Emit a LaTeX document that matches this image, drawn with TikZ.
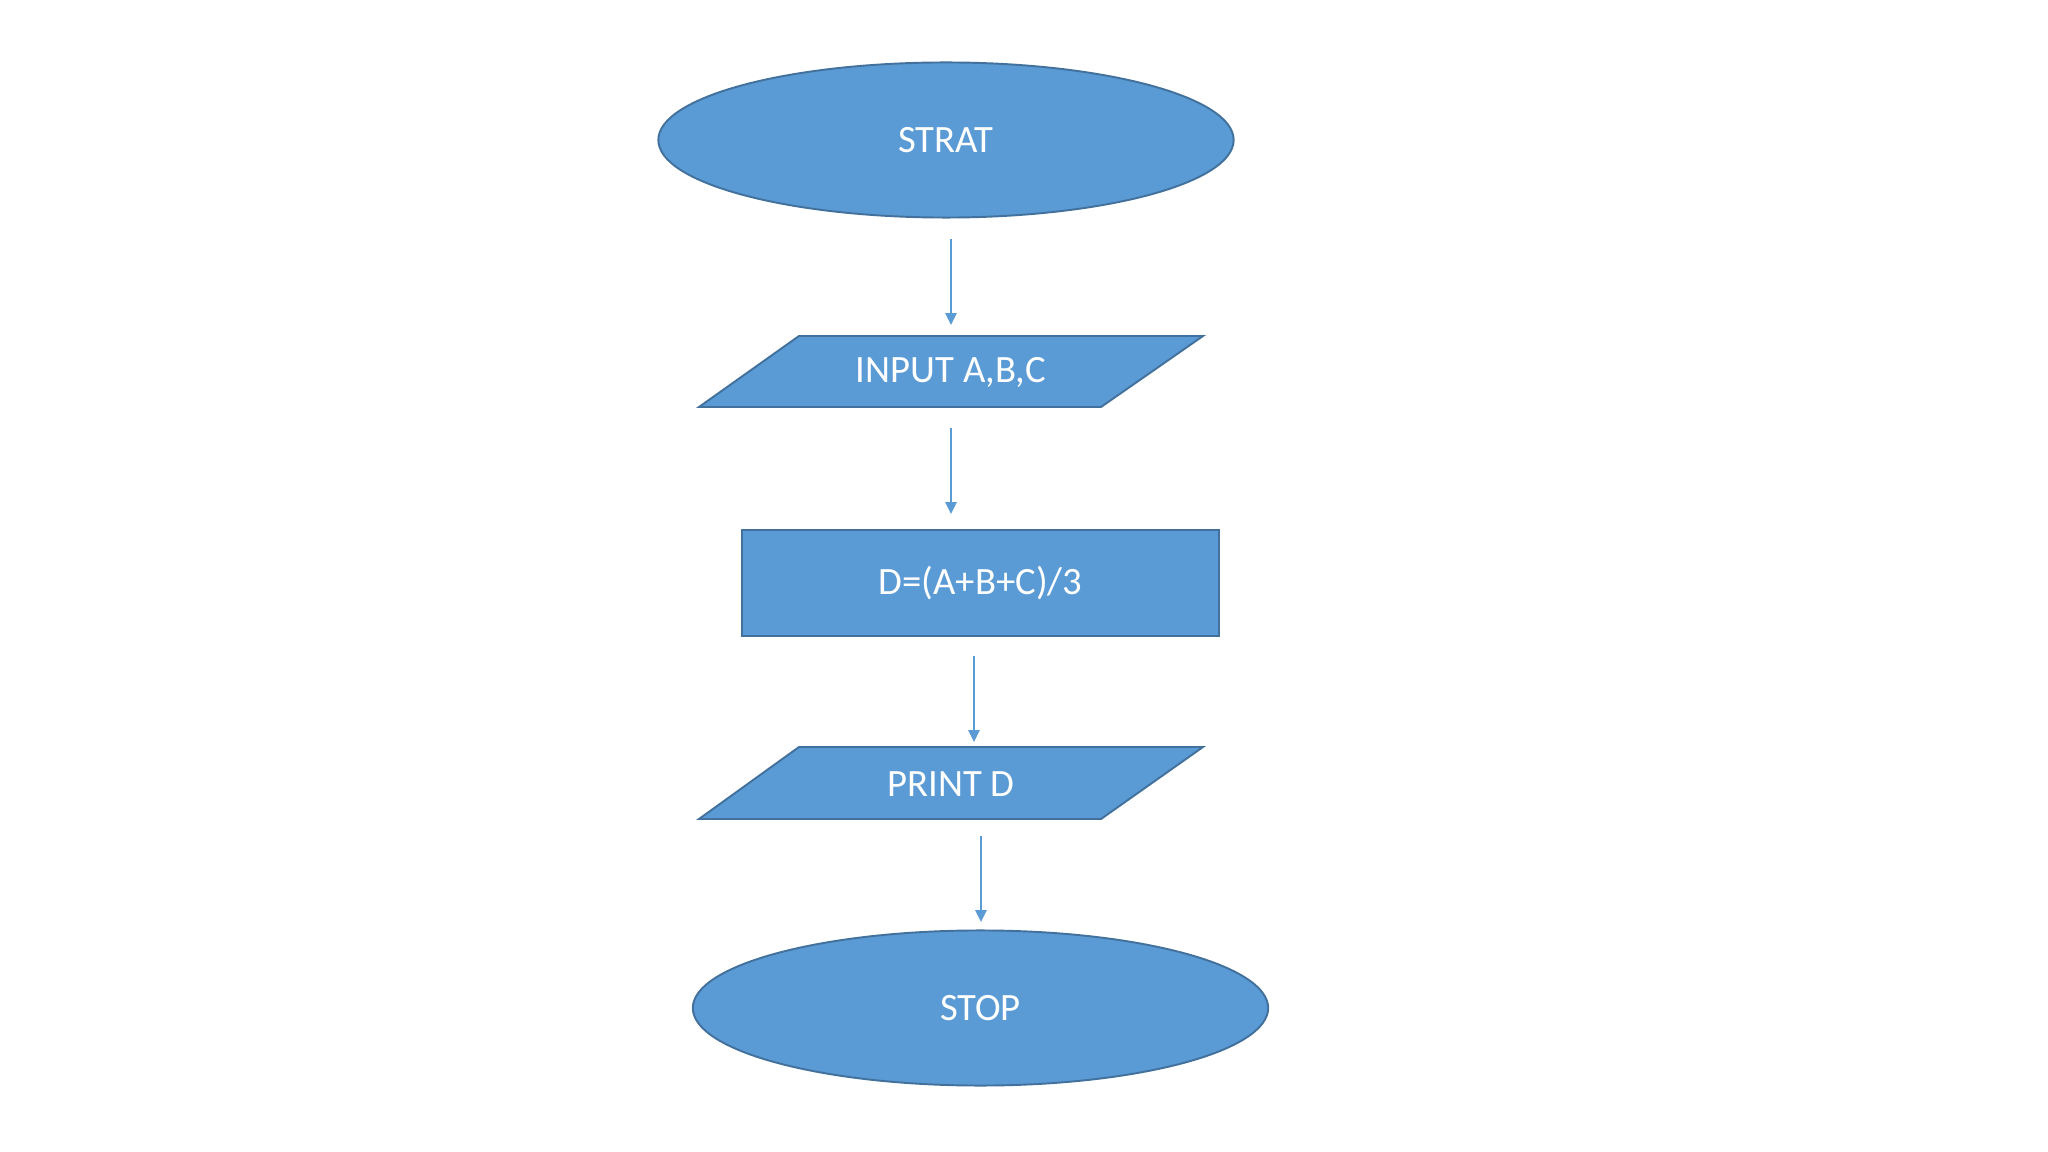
\documentclass[tikz,border=0pt]{standalone}
\usepackage{fontspec}
\setmainfont{Carlito}
\usetikzlibrary{shapes.geometric,arrows.meta}
\definecolor{flowfill}{HTML}{5B9BD5}
\definecolor{flowline}{HTML}{41719C}
\begin{document}
\begin{tikzpicture}[x=0.01cm,y=-0.01cm,
  flow/.style={fill=flowfill,draw=flowline,line width=0.55pt},
  txt/.style={text=white,font=\fontsize{11}{13}\selectfont,inner sep=0pt},
  oval/.style={flow,ellipse,minimum width=5.75cm,minimum height=1.55cm,inner sep=0pt,text=white,font=\fontsize{11}{13}\selectfont},
  procbox/.style={flow,rectangle,minimum width=4.77cm,minimum height=1.06cm,inner sep=0pt,text=white,font=\fontsize{11}{13}\selectfont},
  arr/.style={draw=flowfill,line width=0.6pt,-{Triangle[length=3.4pt,width=3.2pt]}}]
\useasboundingbox[fill=white] (0,0) rectangle (2048,1152);
% start
\node[oval] (start) at (946,140) {STRAT};
% input
\path[flow] (799,336) -- (1203,336) -- (1101,407) -- (699,407) -- cycle;
\node[txt] (input) at (951,372) {INPUT A,B,C};
% process
\node[procbox] (calc) at (980.5,583) {D=(A+B+C)/3};
% print
\path[flow] (799,747) -- (1203,747) -- (1101,819) -- (699,819) -- cycle;
\node[txt] (print) at (951,784) {PRINT D};
% stop
\node[oval] (stop) at (980.5,1008) {STOP};
% connectors
\coordinate (a1s) at (951,239); \coordinate (a1e) at (951,325);
\coordinate (a2s) at (951,428); \coordinate (a2e) at (951,514);
\coordinate (a3s) at (974,656); \coordinate (a3e) at (974,742);
\coordinate (a4s) at (981,836); \coordinate (a4e) at (981,922);
\draw[arr] (a1s) -- (a1e);
\draw[arr] (a2s) -- (a2e);
\draw[arr] (a3s) -- (a3e);
\draw[arr] (a4s) -- (a4e);
\end{tikzpicture}
\end{document}
